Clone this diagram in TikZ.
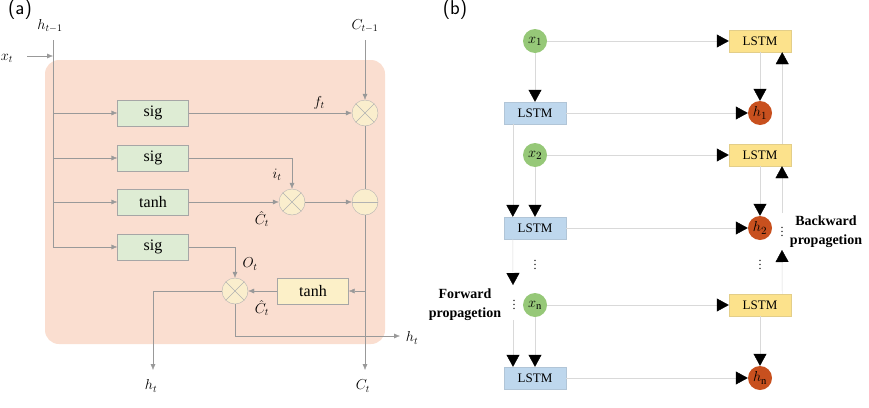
\documentclass[tikz,border=0pt]{standalone}
\usepackage{fontspec}
\setmainfont{Liberation Serif}
\usetikzlibrary{arrows.meta}
\definecolor{pinkbg}{RGB}{250,222,208}
\definecolor{gbox}{RGB}{222,236,212}
\definecolor{ybox}{RGB}{252,240,200}
\definecolor{ycirc}{RGB}{250,238,205}
\definecolor{xgreen}{RGB}{150,200,120}
\definecolor{lblue}{RGB}{190,215,237}
\definecolor{lyellow}{RGB}{252,226,140}
\definecolor{horange}{RGB}{200,80,30}
\begin{document}
\begin{tikzpicture}[x=1pt,y=-1pt,
  lab/.style={font=\fontsize{14}{16}\selectfont},
  gate/.style={draw=gray!70, fill=gbox, minimum width=71pt, minimum height=26pt, font=\fontsize{16}{18}\selectfont},
  tbox/.style={draw=gray!70, fill=ybox, minimum width=71pt, minimum height=26pt, font=\fontsize{16}{18}\selectfont},
  op/.style={circle, draw=gray!60, fill=ycirc, minimum size=26pt, inner sep=0pt},
  wire/.style={draw=gray!80, -{Latex[length=6pt,width=5pt]}},
  line/.style={draw=gray!80},
  bl/.style={draw=lblue!80!gray, fill=lblue, minimum width=62pt, minimum height=22pt, inner sep=0pt, font=\fontsize{13}{15}\selectfont},
  yl/.style={draw=lyellow!80!gray, fill=lyellow, minimum width=62pt, minimum height=22pt, inner sep=0pt, font=\fontsize{13}{15}\selectfont},
  xc/.style={circle, fill=xgreen, minimum size=24pt, inner sep=0pt, font=\fontsize{15}{17}\selectfont},
  hc/.style={circle, fill=horange, minimum size=24pt, inner sep=0pt, font=\fontsize{15}{17}\selectfont},
  big/.style={draw=gray!30, -{Triangle[length=12pt,width=13pt,black]}},
  dots/.style={font=\fontsize{12}{14}\selectfont, inner sep=0pt}]
\useasboundingbox (0,0) rectangle (869,407);
% ---------- (a) ----------
\node[font=\sffamily\fontsize{20}{22}\selectfont] (la) at (20,10) {(a)};
\fill[pinkbg, rounded corners=14pt] (45,60) rectangle (385,344);
\node[lab] (hin) at (50,26) {$h_{t-1}$};
\node[lab] (xin) at (7,58) {$x_t$};
\node[lab] (cin) at (365,26) {$C_{t-1}$};
\coordinate (htop) at (53,40);
\coordinate (xend) at (53,56);
\coordinate (xs) at (27,56);
\node[gate] (s1) at (153,113) {sig};
\node[gate] (s2) at (153,158) {sig};
\node[gate] (t1) at (153,202) {tanh};
\node[gate] (s3) at (153,247) {sig};
\node[tbox] (t2) at (313,291) {tanh};
\node[op] (mf) at (365,113) {};
\node[op] (mi) at (292,202) {};
\node[op] (ad) at (365,202) {};
\node[op] (mo) at (235,291) {};
\foreach \c in {mf,mi,mo}{
  \draw[gray!60] (\c.north east) -- (\c.south west) (\c.north west) -- (\c.south east);}
\draw[gray!60] (ad.west) -- (ad.east);
\draw[wire] (xs) -- (xend);
\draw[line] (htop) -- (53,247);
\foreach \b in {s1,s2,t1,s3}{ \draw[wire] (53,0 |- \b.west) -- (\b.west); }
\draw[wire] (cin.south |- htop) -- (mf.north);
\draw[wire] (s1.east) -- node[lab, pos=0.8, above] {$f_t$} (mf.west);
\draw[wire] (s2.east) -| (mi.north);
\node[lab] (it) at (277,175) {$i_t$};
\draw[wire] (t1.east) -- (mi.west);
\node[lab] (c1) at (262,219) {$\hat{C}_t$};
\draw[wire] (mi.east) -- (ad.west);
\draw[line] (mf.south) -- (ad.north);
\coordinate (cout) at (365,370);
\draw[wire] (ad.south) -- (cout);
\node[lab] (ct) at (363,386) {$C_t$};
\draw[wire] (365,291) -- (t2.east);
\draw[wire] (t2.west) -- (mo.east);
\node[lab] (c2) at (262,308) {$\hat{C}_t$};
\draw[wire] (s3.east) -| (mo.north);
\node[lab] (ot) at (250,264) {$O_t$};
\coordinate (hdown) at (153,370);
\draw[wire] (mo.west) -| (hdown);
\node[lab] (hb) at (151,386) {$h_t$};
\coordinate (hright) at (400,336);
\draw[wire] (mo.south) |- (hright);
\node[lab] (hr) at (412,338) {$h_t$};
% ---------- (b) ----------
\node[font=\sffamily\fontsize{20}{22}\selectfont] (lb) at (455,10) {(b)};
\node[xc] (x1) at (535,41) {$x_1$};
\node[xc] (x2) at (535,155) {$x_2$};
\node[xc] (xn) at (535,305) {$x_\mathrm{n}$};
\node[bl] (b1) at (535,113) {LSTM};
\node[bl] (b2) at (535,228) {LSTM};
\node[bl] (b3) at (535,378) {LSTM};
\node[yl] (y1) at (760,41) {LSTM};
\node[yl] (y2) at (760,155) {LSTM};
\node[yl] (y3) at (760,305) {LSTM};
\node[hc] (h1) at (760,113) {$h_1$};
\node[hc] (h2) at (760,228) {$h_2$};
\node[hc] (hn) at (760,378) {$h_\mathrm{n}$};
\foreach \x/\b/\y in {x1/b1/y1,x2/b2/y2,xn/b3/y3}{
  \draw[big] (\x) -- (\b.north);
  \draw[big] (\x) -- (\y.west);}
\draw[big] (b1.east) -- (h1.west);
\draw[big] (b2.east) -- (h2.west);
\draw[big] (b3.east) -- (hn.west);
\draw[big] (y1.south) -- (h1.north);
\draw[big] (y2.south) -- (h2.north);
\draw[big] (y3.south) -- (hn.north);
% forward chain
\draw[big] (b1.south west) ++(9,0) coordinate (f1) -- (f1 |- b2.north);
\coordinate (fa) at (513,285);
\draw[big] (b2.south west) ++(9,0) coordinate (f2) -- (fa);
\node[dots] (fd) at (514,302) {$\vdots$};
\draw[big] (513,320) coordinate (fb) -- (fb |- b3.north);
\node[dots] (d1) at (535,262) {$\vdots$};
% backward chain
\coordinate (ba) at (782,250);
\draw[big] (y3.north east) ++(-9,0) coordinate (g3) -- (ba);
\node[dots] (bd) at (782,229) {$\vdots$};
\draw[big] (782,213) coordinate (bb) -- (bb |- y2.south);
\draw[big] (y2.north east) ++(-9,0) coordinate (g2) -- (g2 |- y1.south);
\node[dots] (d2) at (760,262) {$\vdots$};
\node[font=\bfseries\fontsize{14}{19}\selectfont, align=center] (fw) at (465,305) {Forward\\propagetion};
\node[font=\bfseries\fontsize{14}{19}\selectfont, align=center] (bw) at (826,232) {Backward\\propagetion};
\end{tikzpicture}
\end{document}
